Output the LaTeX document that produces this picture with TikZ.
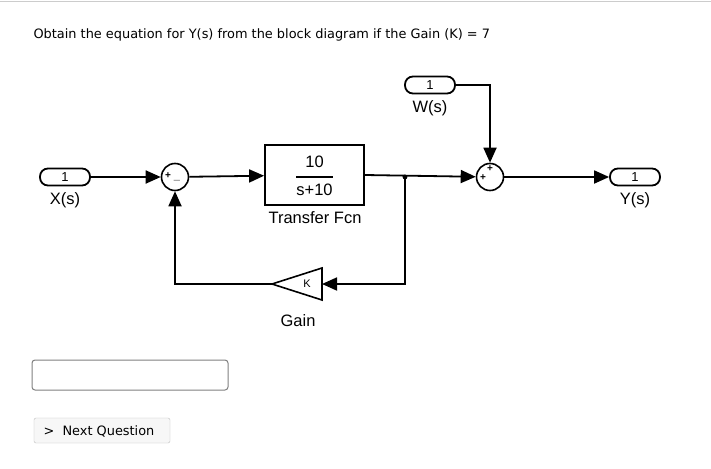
\documentclass[tikz,border=0pt]{standalone}
\usepackage{fontspec}
\setmainfont{DejaVu Sans}
\newfontfamily\arialf{Liberation Sans}
\usetikzlibrary{arrows.meta}
\begin{document}
\begin{tikzpicture}[x=1pt,y=-1pt,
  port/.style={draw,line width=1.8pt,rounded corners=8pt,minimum width=50pt,minimum height=17pt,inner sep=0pt,font=\arialf\fontsize{13}{14}\selectfont},
  sumb/.style={draw,line width=1.6pt,circle,minimum size=27pt,inner sep=0pt},
  lbl/.style={font=\arialf\fontsize{16.5}{18}\selectfont},
  sig/.style={line width=1.8pt,-{Triangle[length=15pt,width=13pt]}},
  wire/.style={line width=1.8pt}]
\useasboundingbox (0,0) rectangle (711,468);
\fill[white] (0,0) rectangle (711,468);
\draw[gray!40] (0,1) -- (711,1);
\node[anchor=west,font=\fontsize{12.9}{14}\selectfont] (title) at (30,35) {Obtain the equation for Y(s) from the block diagram if the Gain (K) = 7};
\node[port] (x) at (65,177) {1};
\node[lbl] (xl) at (65,200) {X(s)};
\node[sumb] (s1) at (175,177) {};
\node[font=\arialf\bfseries\fontsize{10}{10}\selectfont] (s1p) at (168,176) {+};
\node[font=\arialf\bfseries\fontsize{11}{11}\selectfont] (s1m) at (177,180) {\_};
\node[draw,line width=1.8pt,minimum width=99pt,minimum height=60pt,inner sep=0pt] (tf) at (314.5,175) {};
\node[lbl] (num) at (314.5,162) {10};
\draw[line width=1.2pt] (296,177) -- (333,177);
\node[lbl] (den) at (314.5,190) {s+10};
\node[lbl] (tfl) at (315,218) {Transfer Fcn};
\node[sumb] (s2) at (490,177) {};
\node[font=\arialf\bfseries\fontsize{10}{10}\selectfont] (s2a) at (483,178) {+};
\node[font=\arialf\bfseries\fontsize{10}{10}\selectfont] (s2b) at (490,169) {+};
\node[port] (w) at (430,85) {1};
\node[lbl] (wl) at (430,108) {W(s)};
\node[port] (y) at (635,177) {1};
\node[lbl] (yl) at (635,200) {Y(s)};
\coordinate (br) at (405,177);
\fill (br) circle (2.4pt);
\coordinate (gt) at (272,284);
\draw[line width=1.6pt] (272,284) -- (322,268) -- (322,300) -- cycle;
\coordinate (gin) at (322,284);
\node[font=\arialf\fontsize{11}{11}\selectfont] (k) at (307,284) {K};
\node[lbl] (gl) at (298,321) {Gain};
\draw[sig] (x) -- (s1);
\draw[sig] (s1) -- (tf);
\draw[sig] (tf.east) -- (s2);
\draw[sig] (s2) -- (y);
\draw[sig] (w.east) -| (s2);
\draw[sig] (br) |- (gin);
\draw[sig] (gt) -| (s1);
\draw[rounded corners=3pt,gray,line width=1pt] (32,360) rectangle (228,390);
\draw[rounded corners=2pt,gray!50,fill=gray!6] (34,418) rectangle (170,443);
\node[anchor=west,font=\fontsize{12.9}{14}\selectfont] (nq) at (40,431) {\textgreater\ \ Next Question};
\end{tikzpicture}
\end{document}
